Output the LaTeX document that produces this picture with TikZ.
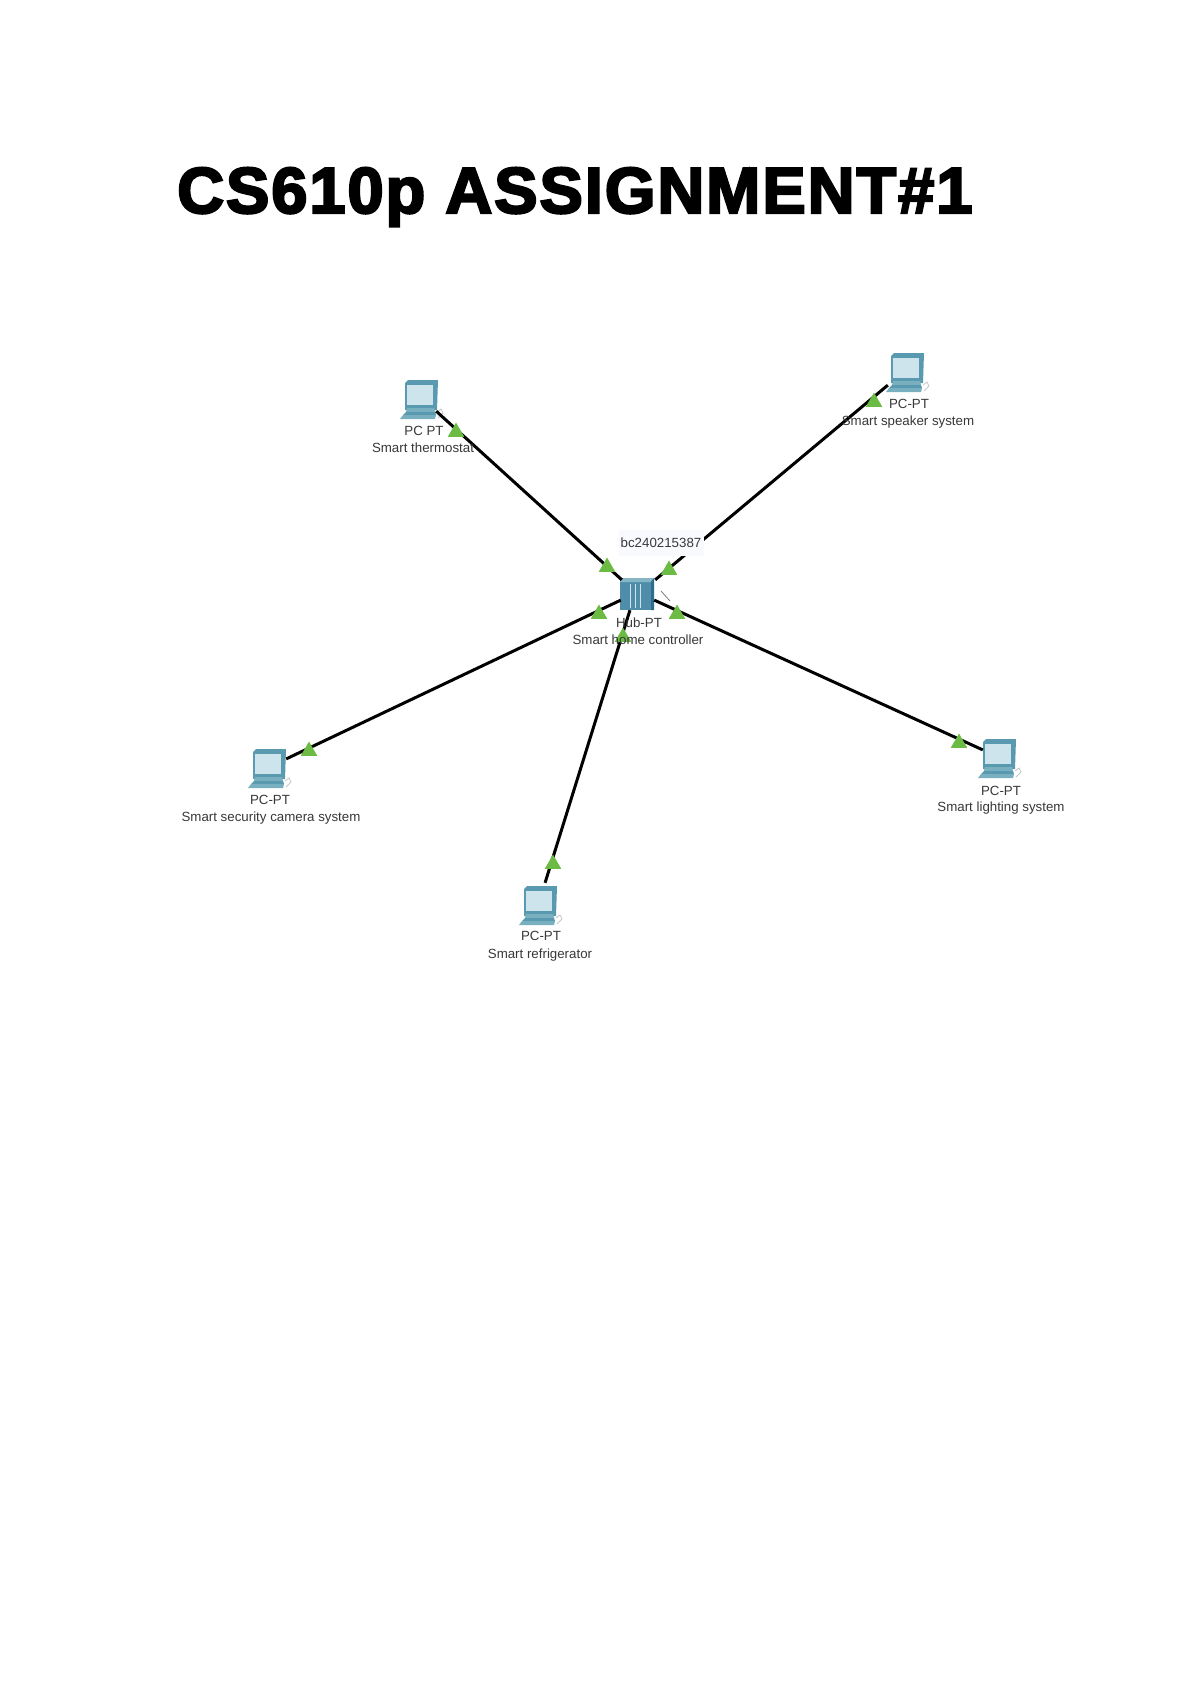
\documentclass[tikz,border=0pt]{standalone}
\usepackage{fontspec}
\setmainfont{Liberation Sans}
\newfontfamily\titlefont[FakeBold=3.5,LetterSpace=3]{Liberation Sans Bold}
\definecolor{tealdark}{HTML}{5A9AB0}
\definecolor{tealmid}{HTML}{79B0C0}
\definecolor{screenlt}{HTML}{CDE4EC}
\definecolor{hubmain}{HTML}{4F8DAB}
\definecolor{hubtop}{HTML}{86B5C6}
\definecolor{hubside}{HTML}{2C6C8C}
\definecolor{linkgreen}{HTML}{6CBB45}
\definecolor{labelbg}{HTML}{F8FAFD}
\usetikzlibrary{shapes.geometric}
\tikzset{
  pcbox/.style={minimum width=37pt,minimum height=40pt,inner sep=0pt},
  port/.style={inner sep=0pt,minimum size=0pt},
  hubbox/.style={minimum width=33pt,minimum height=32pt,inner sep=0pt},
  link/.style={draw=black,line width=3pt},
  devlabel/.style={font=\fontsize{13.3}{15}\selectfont,text=black!78,inner sep=0pt,anchor=center},
  tag/.style={regular polygon,regular polygon sides=3,fill=linkgreen,minimum size=19pt,inner sep=0pt},
}
\newcommand{\pcicon}[1]{%
  \begin{scope}[shift={(#1)}]
    \fill[tealdark] (-16,-17) -- (-13,-20) -- (17,-20) -- (16,10) -- (-16,10) -- cycle;
    \fill[screenlt] (-14,-15) rectangle (12,5);
    \fill[tealmid] (-14,8) -- (13,8) -- (14,12) -- (-15,12) -- cycle;
    \fill[tealdark] (-15,12) -- (14,12) -- (15,15) -- (-18,15) -- cycle;
    \fill[tealmid] (-18,15) -- (15,15) -- (14,19) -- (-21,19) -- cycle;
    \draw[black!22,line width=0.8pt] (16,12) -- (20,9) -- (22,13) -- (17,18);
  \end{scope}}
\begin{document}
\begin{tikzpicture}[x=1pt,y=-1pt]
\useasboundingbox (0,0) rectangle (1200,1696);
\fill[white] (0,0) rectangle (1200,1696);
\node[inner sep=0pt,anchor=base west] (title) at (177,213) {\titlefont\fontsize{65}{70}\selectfont CS610p ASSIGNMENT\#1};
% devices (positions)
\node[pcbox] (pcA) at (421,400) {};
\node[pcbox] (pcB) at (907,373) {};
\node[pcbox] (pcC) at (269,769) {};
\node[pcbox] (pcD) at (999,759) {};
\node[pcbox] (pcE) at (540,906) {};
\node[hubbox] (hub) at (637,594) {};
\node[port] (portA) at (436,411) {};
\node[port] (portB) at (888,385) {};
\node[port] (portC) at (286,759) {};
\node[port] (portD) at (983,750) {};
\node[port] (portE) at (545,883) {};
\node[port] (hubA) at (622,580) {};
\node[port] (hubB) at (655,580) {};
\node[port] (hubC) at (621,600) {};
\node[port] (hubD) at (654,600) {};
\node[port] (hubE) at (630,610) {};
\pcicon{421,400}\pcicon{907,373}\pcicon{269,769}\pcicon{999,759}\pcicon{540,906}
% hub icon
\fill[hubmain] (hub.north west) rectangle (hub.south east);
\fill[hubtop] (620,582) -- (623,578) -- (654,578) -- (651,582) -- cycle;
\fill[hubside] (651,582) -- (654,578) -- (654,610) -- (651,610) -- cycle;
\draw[screenlt,line width=0.9pt] (630,584) -- (630,608) (635,584) -- (635,608) (640,584) -- (640,608);
% connectors
\draw[link] (hubA) -- (portA);
\draw[link] (hubB) -- (portB);
\draw[link] (hubC) -- (portC);
\draw[link] (hubD) -- (portD);
\draw[link] (hubE) -- (portE);
\draw[black!55,line width=0.7pt] (661,591) -- (670,601);
% link tags
\node[tag] (t1) at (456,432) {};
\node[tag] (t2) at (607,567) {};
\node[tag] (t3) at (669,570) {};
\node[tag] (t4) at (874,402) {};
\node[tag] (t5) at (599,614) {};
\node[tag] (t6) at (677,614) {};
\node[tag] (t7) at (309,751) {};
\node[tag] (t8) at (959,743) {};
\node[tag] (t9) at (553,864) {};
\node[tag] (t10) at (623,637) {};
% labels
\node[fill=labelbg,minimum width=85pt,minimum height=26pt,font=\fontsize{13.3}{15}\selectfont,text=black!78,inner sep=0pt] (userid) at (661,543) {bc240215387};
\node[devlabel] (l1a) at (424,431) {PC PT};
\node[devlabel] (l1b) at (423,448) {Smart thermostat};
\node[devlabel] (l2a) at (909,404) {PC-PT};
\node[devlabel] (l2b) at (908,422) {Smart speaker system};
\node[devlabel] (l3a) at (270,800) {PC-PT};
\node[devlabel] (l3b) at (271,818) {Smart security camera system};
\node[devlabel] (l4a) at (1001,791) {PC-PT};
\node[devlabel] (l4b) at (1001,808) {Smart lighting system};
\node[devlabel] (l5a) at (541,936) {PC-PT};
\node[devlabel] (l5b) at (540,955) {Smart refrigerator};
\node[devlabel] (l6a) at (639,623) {Hub-PT};
\node[devlabel] (l6b) at (638,640) {Smart home controller};
\end{tikzpicture}
\end{document}
